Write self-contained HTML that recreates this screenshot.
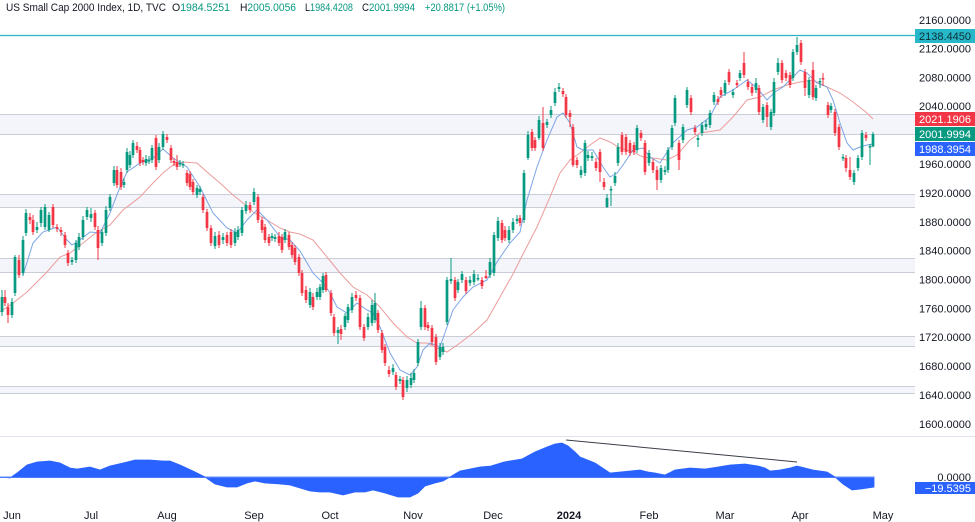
<!DOCTYPE html>
<html>
<head>
<meta charset="utf-8">
<style>
html,body{margin:0;padding:0;background:#ffffff;}
svg{display:block;}
text{font-family:"Liberation Sans",Arial,sans-serif;}
</style>
</head>
<body>
<svg width="975" height="522" viewBox="0 0 975 522" xmlns="http://www.w3.org/2000/svg">
<rect width="975" height="522" fill="#ffffff"/>

<!-- zone bands -->
<g>
<rect x="0" y="114" width="915" height="20" fill="#f3f5fa"/>
<rect x="0" y="194" width="915" height="13" fill="#f3f5fa"/>
<rect x="0" y="258" width="915" height="14" fill="#f3f5fa"/>
<rect x="0" y="336" width="915" height="10" fill="#f3f5fa"/>
<rect x="0" y="386" width="915" height="7" fill="#f3f5fa"/>
</g>
<g stroke="#c9cdd6" stroke-width="1" fill="none">
<path d="M0 114.5H915M0 134.5H915M0 194.5H915M0 207.5H915M0 258.5H915M0 272.5H915M0 336.5H915M0 346.5H915M0 386.5H915M0 393.5H915"/>
</g>
<path d="M0 35.5H915" stroke="#2fb3c2" stroke-width="1.2"/>

<!-- moving averages -->
<polyline fill="none" stroke="#ec9c9c" stroke-width="1" points="0,312 13,303 27,292 47,272 60,257 70,253 83,243 97,232 110,225 123,210 140,197 153,183 163,173 173,165 183,162 197,163 207,172 220,183 233,195 243,203 253,212 267,220 280,228 290,232 300,234 313,240 327,257 340,273 353,287 367,295 380,307 393,323 407,337 417,343 427,343 437,348 447,352 460,343 473,333 487,320 500,297 513,274 520,260 537,227 550,197 560,173 570,160 580,153 590,145 600,138 610,142 620,148 633,152 643,157 653,158 667,160 677,155 690,140 700,133 720,130 733,117 747,100 760,97 773,90 787,85 800,82 813,80 827,87 840,93 853,102 867,113 873,119"/>
<polyline fill="none" stroke="#7ba4e6" stroke-width="1" points="23,275 33,243 43,232 57,227 67,240 72,245 80,240 90,232 100,233 110,213 120,187 127,172 140,163 153,158 163,149 173,158 187,167 200,187 213,213 227,228 237,233 247,220 257,210 267,220 280,237 290,240 300,251 313,273 323,283 330,293 337,307 347,313 357,303 367,310 373,313 380,327 390,353 400,370 410,375 417,367 423,350 430,343 440,347 447,327 453,310 463,297 473,287 487,280 497,262 510,243 520,232 527,200 537,167 547,140 557,117 563,113 570,123 577,147 583,150 593,150 603,167 610,177 617,173 623,165 633,150 643,148 650,157 660,163 673,143 687,130 697,127 710,117 720,97 733,90 747,80 757,88 767,100 775,92 783,87 793,77 800,70 807,73 817,83 827,87 833,100 840,123 847,143 853,150 860,147 867,145 873,144"/>

<!-- candles: green -->
<path fill="none" stroke="#089981" stroke-width="1" d="M2 290V316M12 298V318M15 255V296M23 236V276M26 209V236M37 222V233M41 207V227M45 204V230M49 212V232M72 257V265M76 240V263M79 233V250M83 216V240M87 207V220M91 208V222M102 229V246M106 206V236M110 194V211M114 166V186M124 178V188M127 148V173M130 151V168M133 140V158M146 155V166M149 156V164M152 145V163M159 143V163M163 131V150M180 160V167M183 161V168M197 185V198M200 186V195M215 232V249M223 233V244M235 228V246M238 226V240M242 207V236M246 201V214M254 188V205M272 233V241M275 234V242M285 229V243M310 288V308M317 288V300M320 284V300M323 273V293M338 327V344M345 313V330M348 304V323M352 293V313M368 313V330M372 300V326M375 293V323M393 364V375M400 376V384M407 376V392M411 373V388M414 369V383M418 339V366M421 301V330M440 343V360M443 343V355M447 277V325M451 258V284M458 279V293M462 271V283M470 276V286M474 270V285M478 274V281M490 258V278M494 232V276M498 217V241M509 226V243M513 218V233M517 215V224M524 170V223M528 131V160M539 116V140M547 119V128M551 106V118M555 88V106M559 83V92M581 166V178M585 140V176M588 151V161M592 152V161M607 194V208M611 186V206M615 172V186M618 143V166M637 125V153M649 150V166M661 165V183M665 166V175M668 147V173M672 125V150M675 95V126M683 124V143M687 87V108M698 135V147M702 122V136M706 120V130M710 110V128M714 92V105M725 80V96M733 89V98M740 70V81M756 78V93M763 104V123M771 109V130M774 78V116M778 58V75M793 49V81M797 37V55M809 77V98M816 85V101M820 78V88M831 103V113M843 154V161M854 170V185M858 155V171M862 130V160M870 144V165M873 132V147"/>
<path fill="none" stroke="#089981" stroke-width="2.7" d="M2 297V312M12 302V315M15 257V293M23 240V273M26 213V233M37 227V230M41 210V223M45 207V227M49 215V230M72 260V262M76 243V260M79 237V247M83 220V237M87 210V217M91 214V218M102 232V243M106 210V233M110 197V208M114 170V183M124 182V185M127 152V170M130 155V165M133 143V155M146 159V163M149 160V161.5M152 148V160M159 147V160M163 134V147M180 163V164.5M183 164V165.5M197 188V195M200 189V192M215 236V246M223 237V240M235 232V243M238 230V237M242 210V233M246 205V211M254 192V202M272 236V238M275 237V239M285 232V240M310 292V305M317 292V297M320 287V297M323 276V290M338 330V333M345 316V327M348 307V320M352 297V310M368 317V327M372 305V323M375 303V320M393 368V372M400 379V381M407 380V388M411 378V385M414 373V380M418 342V363M421 308V327M440 347V357M443 347V352M447 280V322M451 279V281M458 282V290M462 274V280M470 280V283M474 274V282M478 278V279.5M490 262V275M494 235V273M498 221V238M509 230V240M513 222V230M517 219V221M524 173V220M528 135V158M539 120V138M547 122V125M551 110V115M555 92V103M559 87V89M581 170V175M585 143V173M588 155V158M592 156V158M607 198V207M611 189V190.5M615 176V183M618 147V163M637 128V150M649 153V163M661 168V180M665 170V172M668 150V170M672 128V147M675 98V123M683 127V140M687 90V105M698 138V140M702 125V133M706 124V127M710 113V125M714 95V102M725 83V93M733 92V95M740 73V78M756 83V90M763 107V120M771 112V127M774 82V113M778 63V72M793 52V78M797 45V52M809 80V95M816 88V98M820 81V82.5M831 106V110M843 157V158.5M854 173V182M858 158V168M862 133V157M870 146V147.5M873 134V146.5"/>

<!-- candles: red -->
<path fill="none" stroke="#f23645" stroke-width="1" d="M5 290V306M8 303V323M19 255V278M30 213V224M33 215V235M53 204V228M57 224V232M61 227V236M65 232V248M68 250V266M95 210V230M98 226V260M117 166V188M121 168V190M137 142V153M140 147V166M143 157V165M156 135V170M167 134V143M171 145V163M174 158V166M177 155V170M187 170V186M190 171V190M193 179V195M203 194V213M207 209V231M211 225V246M219 231V248M227 232V246M231 229V248M250 202V213M258 194V223M262 217V233M265 224V243M269 234V246M279 232V246M282 234V253M289 232V250M292 242V258M295 245V265M299 254V276M302 270V296M306 286V303M313 293V310M326 272V292M331 290V316M334 314V336M341 325V340M356 291V301M360 295V330M364 324V341M378 310V333M382 330V353M385 344V366M389 366V377M396 372V390M403 377V400M425 305V330M428 322V331M432 325V345M436 334V365M455 277V301M466 277V294M482 277V289M486 270V279M502 220V243M505 226V241M520 215V226M532 129V151M535 137V151M543 107V151M563 88V97M566 94V118M570 110V127M573 124V167M577 157V168M596 158V171M600 149V182M604 178V190M622 132V155M626 134V155M630 140V156M634 142V155M641 130V141M645 140V175M653 159V173M657 166V190M679 140V170M691 95V115M695 125V135M718 96V105M721 87V98M729 69V85M737 80V88M744 52V78M748 79V90M752 84V96M759 85V115M767 102V127M782 60V83M786 70V81M790 72V88M801 40V65M805 69V96M813 62V100M823 73V86M828 102V118M835 109V136M839 124V150M846 155V172M850 157V180M866 132V141"/>
<path fill="none" stroke="#f23645" stroke-width="2.7" d="M5 297V303M8 307V315M19 260V275M30 217V220M33 220V232M53 207V225M57 227V229M61 230V232M65 235V245M68 253V263M95 213V227M98 230V248M117 170V185M121 172V187M137 146V150M140 150V163M143 160V162M156 138V167M167 137V140M171 148V160M174 161V163M177 162V167M187 173V183M190 174V187M193 182V192M203 197V210M207 212V228M211 228V243M219 235V245M227 235V243M231 232V245M250 205V210M258 197V220M262 220V230M265 227V240M269 237V243M279 236V243M282 237V250M289 235V247M292 245V255M295 248V262M299 257V273M302 273V293M306 290V300M313 297V307M326 275V290M331 293V313M334 317V333M341 329V334M356 295V298M360 298V327M364 327V338M378 313V330M382 333V350M385 347V363M389 370V374M396 375V387M403 380V397M425 308V327M428 325V328M432 328V342M436 337V362M455 280V298M466 280V291M482 280V286M486 276V278M502 223V240M505 230V238M520 218V223M532 132V148M535 140V148M543 123V148M563 91V94M566 97V115M570 113V117M573 127V165M577 160V165M596 162V168M600 152V172M604 182V187M622 135V152M626 137V152M630 143V153M634 145V152M641 133V138M645 143V172M653 162V170M657 170V180M679 143V160M691 98V112M695 128V132M718 99V102M721 90V95M729 72V82M737 83V85M744 63V75M748 82V87M752 87V93M759 88V112M767 105V117M782 63V80M786 73V78M790 75V85M801 43V62M805 72V88M813 70V97M823 78V79.5M828 105V115M835 112V133M839 127V147M846 158V168M850 170V177M866 135V138"/>

<!-- pane separator -->
<path d="M0 436.5H975" stroke="#e0e3eb" stroke-width="1"/>

<!-- oscillator -->
<path fill="#2962ff" stroke="#2962ff" stroke-width="0.8" d="M0 477 L10 478 L17 473 L27 465 L37 462 L50 461 L60 463 L70 468 L77 469 L90 467 L100 470 L110 466 L123 463 L135 460 L150 460 L163 461 L170 461 L180 465 L193 471 L205 477 L215 484 L227 487 L237 487 L247 483 L255 481 L265 483 L280 484 L290 485 L300 488 L310 491 L320 492 L330 492 L343 495 L355 492 L365 492 L373 490 L385 493 L398 497 L410 497 L418 493 L425 486 L435 483 L443 481 L450 477 L460 471 L470 469 L480 467 L491 466 L504 462 L522 459 L535 452 L547 447 L555 444 L562 443 L568 446 L575 452 L580 457 L595 463 L610 473 L620 472 L630 471 L640 470 L648 472 L655 473 L665 475 L675 470 L690 468 L705 469 L718 467 L730 465 L745 464 L758 466 L765 468 L770 471 L780 470 L790 468 L797 466 L805 468 L813 470 L827 472 L835 477 L843 484 L852 490 L861 489 L868 488 L874 487 L874 477 Z"/>
<path d="M0 477.5H874" stroke="#4f7dff" stroke-width="1"/>
<path d="M566 440L797 462" stroke="#3a3d46" stroke-width="1"/>

<!-- header -->
<g font-size="11">
<text x="6" y="11" fill="#131722" textLength="160" lengthAdjust="spacingAndGlyphs">US Small Cap 2000 Index, 1D, TVC</text>
<text x="172" y="11" fill="#131722" textLength="58" lengthAdjust="spacingAndGlyphs">O<tspan fill="#089981">1984.5251</tspan></text>
<text x="240" y="11" fill="#131722" textLength="56" lengthAdjust="spacingAndGlyphs">H<tspan fill="#089981">2005.0056</tspan></text>
<text x="305" y="11" fill="#131722" textLength="48" lengthAdjust="spacingAndGlyphs">L<tspan fill="#089981">1984.4208</tspan></text>
<text x="362" y="11" fill="#131722" textLength="53" lengthAdjust="spacingAndGlyphs">C<tspan fill="#089981">2001.9994</tspan></text>
<text x="425" y="11" fill="#089981" textLength="80" lengthAdjust="spacingAndGlyphs">+20.8817 (+1.05%)</text>
</g>

<!-- price axis -->
<g font-size="11" fill="#131722" text-anchor="end">
<text x="971" y="24">2160.0000</text>
<text x="971" y="52.5">2120.0000</text>
<text x="971" y="81.5">2080.0000</text>
<text x="971" y="110">2040.0000</text>
<text x="971" y="168">1960.0000</text>
<text x="971" y="197">1920.0000</text>
<text x="971" y="226">1880.0000</text>
<text x="971" y="254.5">1840.0000</text>
<text x="971" y="283.5">1800.0000</text>
<text x="971" y="312.5">1760.0000</text>
<text x="971" y="341">1720.0000</text>
<text x="971" y="370">1680.0000</text>
<text x="971" y="399">1640.0000</text>
<text x="971" y="428">1600.0000</text>
<text x="971" y="481">0.0000</text>
</g>
<rect x="915" y="29" width="60" height="14" fill="#26b7c9"/>
<rect x="915" y="112" width="60" height="14" fill="#f23645"/>
<rect x="915" y="127" width="60" height="14" fill="#089981"/>
<rect x="915" y="142" width="60" height="14" fill="#2962ff"/>
<rect x="915" y="482" width="60" height="12" fill="#2962ff"/>
<g font-size="11" text-anchor="end">
<text x="971" y="40" fill="#0d2f36">2138.4450</text>
<text x="971" y="123" fill="#ffffff">2021.1906</text>
<text x="971" y="138" fill="#ffffff">2001.9994</text>
<text x="971" y="153" fill="#ffffff">1988.3954</text>
<text x="971" y="492" fill="#ffffff">−19.5395</text>
</g>

<!-- time axis -->
<g font-size="11" fill="#131722" text-anchor="middle">
<text x="12" y="519">Jun</text>
<text x="91" y="519">Jul</text>
<text x="167" y="519">Aug</text>
<text x="254" y="519">Sep</text>
<text x="330" y="519">Oct</text>
<text x="413" y="519">Nov</text>
<text x="493" y="519">Dec</text>
<text x="569" y="519" font-weight="bold">2024</text>
<text x="649" y="519">Feb</text>
<text x="725" y="519">Mar</text>
<text x="800" y="519">Apr</text>
<text x="883" y="519">May</text>
</g>
</svg>
</body>
</html>
